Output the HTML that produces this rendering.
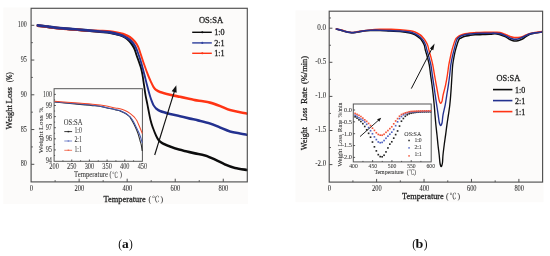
<!DOCTYPE html>
<html><head><meta charset="utf-8"><title>TG and DTG curves</title>
<style>html,body{margin:0;padding:0;background:#fff;width:550px;height:256px;overflow:hidden}svg{display:block}</style>
</head><body>
<svg width="550" height="256" viewBox="0 0 550 256">
<rect x="3.3" y="7.5" width="244.7" height="196.5" fill="#fcfbfa"/>
<rect x="295.5" y="10.4" width="248" height="191.8" fill="#fcfbfa"/>
<g transform="scale(0.68966,1)" fill="none" stroke-linejoin="round" stroke-linecap="round" stroke-width="2.6">
<path d="M54.38 25.60 C56.19 25.73 62.23 26.15 65.25 26.40 C68.27 26.65 70.08 26.87 72.50 27.10 C74.92 27.33 77.33 27.60 79.75 27.80 C82.17 28.00 83.38 28.08 87.00 28.30 C90.62 28.52 96.67 28.83 101.50 29.10 C106.33 29.37 111.17 29.62 116.00 29.90 C120.83 30.18 125.67 30.50 130.50 30.80 C135.33 31.10 140.17 31.40 145.00 31.70 C149.83 32.00 154.67 32.03 159.50 32.60 C164.33 33.17 170.38 34.30 174.00 35.10 C177.62 35.90 179.07 36.45 181.25 37.40 C183.43 38.35 185.36 39.62 187.05 40.80 C188.74 41.98 190.07 43.13 191.40 44.50 C192.73 45.87 193.94 47.25 195.03 49.00 C196.11 50.75 196.84 52.83 197.92 55.00 C199.01 57.17 200.46 59.83 201.55 62.00 C202.64 64.17 203.60 65.83 204.45 68.00 C205.30 70.17 205.90 72.17 206.62 75.00 C207.35 77.83 208.07 81.67 208.80 85.00 C209.52 88.33 210.13 91.67 210.97 95.00 C211.82 98.33 212.67 100.83 213.88 105.00 C215.08 109.17 216.90 116.17 218.22 120.00 C219.55 123.83 220.52 125.42 221.85 128.00 C223.18 130.58 224.87 133.50 226.20 135.50 C227.53 137.50 228.38 138.75 229.82 140.00 C231.27 141.25 232.12 141.92 234.90 143.00 C237.68 144.08 242.39 145.40 246.50 146.50 C250.61 147.60 255.44 148.77 259.55 149.60 C263.66 150.43 267.28 150.87 271.15 151.50 C275.02 152.13 278.40 152.72 282.75 153.40 C287.10 154.08 292.42 154.57 297.25 155.60 C302.08 156.63 306.92 158.13 311.75 159.60 C316.58 161.07 321.42 163.00 326.25 164.40 C331.08 165.80 335.43 167.07 340.75 168.00 C346.07 168.93 355.25 169.67 358.15 170.00" stroke="#0c0c0c"/>
<path d="M54.38 25.60 C56.19 25.75 62.23 26.23 65.25 26.50 C68.27 26.77 70.08 26.97 72.50 27.20 C74.92 27.43 77.33 27.70 79.75 27.90 C82.17 28.10 83.38 28.18 87.00 28.40 C90.62 28.62 96.67 28.95 101.50 29.20 C106.33 29.45 111.17 29.65 116.00 29.90 C120.83 30.15 125.67 30.52 130.50 30.70 C135.33 30.88 140.17 30.87 145.00 31.00 C149.83 31.13 154.67 31.10 159.50 31.50 C164.33 31.90 170.38 32.87 174.00 33.40 C177.62 33.93 178.83 34.07 181.25 34.70 C183.67 35.33 186.08 36.02 188.50 37.20 C190.92 38.38 193.82 40.23 195.75 41.80 C197.68 43.37 198.77 44.65 200.10 46.60 C201.43 48.55 202.28 50.60 203.72 53.50 C205.17 56.40 206.99 60.42 208.80 64.00 C210.61 67.58 212.91 72.00 214.60 75.00 C216.29 78.00 217.62 80.00 218.95 82.00 C220.28 84.00 221.37 85.70 222.57 87.00 C223.78 88.30 224.63 88.98 226.20 89.80 C227.77 90.62 228.62 91.08 232.00 91.90 C235.38 92.72 241.67 93.88 246.50 94.70 C251.33 95.52 256.41 96.13 261.00 96.80 C265.59 97.47 270.43 98.15 274.05 98.70 C277.68 99.25 279.37 99.68 282.75 100.10 C286.13 100.52 290.72 100.78 294.35 101.20 C297.97 101.62 300.39 101.80 304.50 102.60 C308.61 103.40 314.17 104.77 319.00 106.00 C323.83 107.23 328.67 108.97 333.50 110.00 C338.33 111.03 343.89 111.62 348.00 112.20 C352.11 112.78 356.46 113.28 358.15 113.50" stroke="#ff3414"/>
<path d="M54.38 25.40 C56.19 25.53 62.23 25.95 65.25 26.20 C68.27 26.45 70.08 26.67 72.50 26.90 C74.92 27.13 77.33 27.40 79.75 27.60 C82.17 27.80 83.38 27.88 87.00 28.10 C90.62 28.32 96.67 28.63 101.50 28.90 C106.33 29.17 111.17 29.42 116.00 29.70 C120.83 29.98 125.67 30.30 130.50 30.60 C135.33 30.90 140.17 31.20 145.00 31.50 C149.83 31.80 154.67 31.85 159.50 32.40 C164.33 32.95 170.38 34.05 174.00 34.80 C177.62 35.55 178.83 36.03 181.25 36.90 C183.67 37.77 186.57 38.98 188.50 40.00 C190.43 41.02 191.52 41.87 192.85 43.00 C194.18 44.13 195.27 45.13 196.47 46.80 C197.68 48.47 198.77 50.47 200.10 53.00 C201.43 55.53 202.88 58.33 204.45 62.00 C206.02 65.67 208.07 71.17 209.53 75.00 C210.98 78.83 211.89 81.67 213.15 85.00 C214.41 88.33 215.93 92.33 217.06 95.00 C218.20 97.67 219.00 99.25 219.96 101.00 C220.93 102.75 221.78 104.23 222.86 105.50 C223.95 106.77 224.97 107.68 226.49 108.60 C228.01 109.52 228.66 110.10 232.00 111.00 C235.34 111.90 241.67 113.13 246.50 114.00 C251.33 114.87 256.17 115.43 261.00 116.20 C265.83 116.97 271.15 117.90 275.50 118.60 C279.85 119.30 282.27 119.58 287.10 120.40 C291.93 121.22 299.18 122.32 304.50 123.50 C309.82 124.68 314.17 126.18 319.00 127.50 C323.83 128.82 328.67 130.40 333.50 131.40 C338.33 132.40 343.89 132.95 348.00 133.50 C352.11 134.05 356.46 134.50 358.15 134.70" stroke="#23318f"/>
</g>
<rect x="31.10" y="8.30" width="216.20" height="173.60" fill="none" stroke="#505050" stroke-width="1.15"/>
<path d="M31.10 25.30 h3.2 M31.10 60.05 h3.2 M31.10 94.80 h3.2 M31.10 129.55 h3.2 M31.10 164.30 h3.2 M31.10 42.67 h1.7 M31.10 77.42 h1.7 M31.10 112.17 h1.7 M31.10 146.93 h1.7 M79.14 181.90 v-3.2 M127.18 181.90 v-3.2 M175.22 181.90 v-3.2 M223.26 181.90 v-3.2 M55.12 181.90 v-1.7 M103.16 181.90 v-1.7 M151.20 181.90 v-1.7 M199.24 181.90 v-1.7" stroke="#505050" stroke-width="1" fill="none"/>
<g font-family="'Liberation Serif','Noto Serif CJK SC',serif">
<text x="17.80" y="27.40" font-size="7.60" textLength="9.00" lengthAdjust="spacingAndGlyphs" fill="#2a2a2a" stroke="#2a2a2a" style="stroke-width:0.06px">100</text>
<text x="20.70" y="62.15" font-size="7.60" textLength="6.10" lengthAdjust="spacingAndGlyphs" fill="#2a2a2a" stroke="#2a2a2a" style="stroke-width:0.06px">95</text>
<text x="20.70" y="96.90" font-size="7.60" textLength="6.10" lengthAdjust="spacingAndGlyphs" fill="#2a2a2a" stroke="#2a2a2a" style="stroke-width:0.06px">90</text>
<text x="20.70" y="131.65" font-size="7.60" textLength="6.10" lengthAdjust="spacingAndGlyphs" fill="#2a2a2a" stroke="#2a2a2a" style="stroke-width:0.06px">85</text>
<text x="20.70" y="166.40" font-size="7.60" textLength="6.10" lengthAdjust="spacingAndGlyphs" fill="#2a2a2a" stroke="#2a2a2a" style="stroke-width:0.06px">80</text>
<text x="29.65" y="191.10" font-size="7.70" textLength="3.30" lengthAdjust="spacingAndGlyphs" fill="#2a2a2a" stroke="#2a2a2a" style="stroke-width:0.06px">0</text>
<text x="74.44" y="191.10" font-size="7.70" textLength="9.80" lengthAdjust="spacingAndGlyphs" fill="#2a2a2a" stroke="#2a2a2a" style="stroke-width:0.06px">200</text>
<text x="122.48" y="191.10" font-size="7.70" textLength="9.80" lengthAdjust="spacingAndGlyphs" fill="#2a2a2a" stroke="#2a2a2a" style="stroke-width:0.06px">400</text>
<text x="170.52" y="191.10" font-size="7.70" textLength="9.80" lengthAdjust="spacingAndGlyphs" fill="#2a2a2a" stroke="#2a2a2a" style="stroke-width:0.06px">600</text>
<text x="218.56" y="191.10" font-size="7.70" textLength="9.80" lengthAdjust="spacingAndGlyphs" fill="#2a2a2a" stroke="#2a2a2a" style="stroke-width:0.06px">800</text>
<text x="103.60" y="201.60" font-size="9.00" textLength="42.10" lengthAdjust="spacingAndGlyphs" fill="#222" stroke="#222" style="stroke-width:0.26px">Temperature</text>
<text x="148.60" y="201.60" font-size="9.00" textLength="2.60" lengthAdjust="spacingAndGlyphs" fill="#2a2a2a" stroke="#2a2a2a" style="stroke-width:0.06px">(</text>
<text x="151.90" y="201.60" font-size="8.40" textLength="7.30" lengthAdjust="spacingAndGlyphs" fill="#2a2a2a" stroke="#2a2a2a" style="stroke-width:0.06px">℃</text>
<text x="160.40" y="201.60" font-size="9.00" textLength="2.60" lengthAdjust="spacingAndGlyphs" fill="#2a2a2a" stroke="#2a2a2a" style="stroke-width:0.06px">)</text>
<text transform="translate(11.60,129.40) rotate(-90)" font-size="8.80" textLength="24.20" lengthAdjust="spacingAndGlyphs" fill="#222" stroke="#222" style="stroke-width:0.26px">Weight</text>
<text transform="translate(11.60,103.40) rotate(-90)" font-size="8.80" textLength="16.40" lengthAdjust="spacingAndGlyphs" fill="#222" stroke="#222" style="stroke-width:0.26px">Loss</text>
<text transform="translate(11.60,82.20) rotate(-90)" font-size="8.80" textLength="9.80" lengthAdjust="spacingAndGlyphs" fill="#222" stroke="#222" style="stroke-width:0.26px">(%)</text>
<text x="199.00" y="22.70" font-size="7.80" textLength="24.00" lengthAdjust="spacingAndGlyphs" fill="#222" stroke="#222" style="stroke-width:0.26px">OS:SA</text>
<text x="214.20" y="35.30" font-size="7.80" textLength="10.40" lengthAdjust="spacingAndGlyphs" fill="#222" stroke="#222" style="stroke-width:0.26px">1:0</text>
<text x="214.20" y="45.90" font-size="7.80" textLength="10.40" lengthAdjust="spacingAndGlyphs" fill="#222" stroke="#222" style="stroke-width:0.26px">2:1</text>
<text x="214.20" y="56.30" font-size="7.80" textLength="10.40" lengthAdjust="spacingAndGlyphs" fill="#222" stroke="#222" style="stroke-width:0.26px">1:1</text>
</g>
<path d="M192.2 32.30 H211.8" stroke="#0c0c0c" stroke-width="1.45"/>
<circle cx="202.3" cy="32.30" r="1.05" fill="#0c0c0c"/>
<path d="M192.2 42.90 H211.8" stroke="#3444a0" stroke-width="1.45"/>
<circle cx="202.3" cy="42.90" r="1.05" fill="#3444a0"/>
<path d="M192.2 53.30 H211.8" stroke="#ff3414" stroke-width="1.45"/>
<circle cx="202.3" cy="53.30" r="1.05" fill="#ff3414"/>
<path d="M154.70 155.00 L174.47 91.12" stroke="#111" stroke-width="1.15"/><path d="M176.30 85.20 L176.66 92.85 L171.69 91.31 Z" fill="#111"/>
<rect x="54.10" y="88.70" width="88.30" height="72.60" fill="#fefefe" stroke="#555" stroke-width="1"/>
<g fill="none" stroke-width="1.05" stroke-linejoin="round">
<path d="M54.50 102.10 C57.92 102.40 68.25 103.28 75.00 103.90 C81.75 104.52 90.00 105.22 95.00 105.80 C100.00 106.38 101.67 106.75 105.00 107.40 C108.33 108.05 112.50 109.12 115.00 109.70 C117.50 110.28 118.33 110.30 120.00 110.90 C121.67 111.50 123.67 112.55 125.00 113.30 C126.33 114.05 127.17 114.75 128.00 115.40 C128.83 116.05 129.42 116.47 130.00 117.20 C130.58 117.93 130.97 118.87 131.50 119.80 C132.03 120.73 132.68 121.85 133.20 122.80 C133.72 123.75 134.07 124.38 134.60 125.50 C135.13 126.62 135.83 128.13 136.40 129.50 C136.97 130.87 137.40 131.87 138.00 133.70 C138.60 135.53 139.47 138.67 140.00 140.50 C140.53 142.33 140.83 142.95 141.20 144.70 C141.57 146.45 142.03 149.95 142.20 151.00" stroke="#2a2a2a"/>
<path d="M54.50 101.80 C57.92 102.10 68.25 102.98 75.00 103.60 C81.75 104.22 90.00 104.90 95.00 105.50 C100.00 106.10 101.67 106.53 105.00 107.20 C108.33 107.87 112.50 108.93 115.00 109.50 C117.50 110.07 118.33 110.02 120.00 110.60 C121.67 111.18 123.67 112.27 125.00 113.00 C126.33 113.73 127.17 114.38 128.00 115.00 C128.83 115.62 129.33 115.98 130.00 116.70 C130.67 117.42 131.37 118.38 132.00 119.30 C132.63 120.22 133.25 121.20 133.80 122.20 C134.35 123.20 134.77 124.20 135.30 125.30 C135.83 126.40 136.43 127.63 137.00 128.80 C137.57 129.97 138.07 130.80 138.70 132.30 C139.33 133.80 140.22 136.05 140.80 137.80 C141.38 139.55 141.97 141.97 142.20 142.80" stroke="#4357b0"/>
<path d="M54.50 101.20 C57.92 101.47 68.25 102.25 75.00 102.80 C81.75 103.35 90.00 104.00 95.00 104.50 C100.00 105.00 101.67 105.23 105.00 105.80 C108.33 106.37 112.50 107.40 115.00 107.90 C117.50 108.40 118.33 108.35 120.00 108.80 C121.67 109.25 123.33 109.83 125.00 110.60 C126.67 111.37 128.67 112.52 130.00 113.40 C131.33 114.28 132.17 115.13 133.00 115.90 C133.83 116.67 134.37 117.22 135.00 118.00 C135.63 118.78 136.18 119.47 136.80 120.60 C137.42 121.73 138.08 123.40 138.70 124.80 C139.32 126.20 139.90 127.55 140.50 129.00 C141.10 130.45 142.00 132.75 142.30 133.50" stroke="#f24a2c"/>
</g>
<path d="M54.10 94.40 h1.8 M54.10 105.50 h1.8 M54.10 116.60 h1.8 M54.10 127.70 h1.8 M54.10 138.80 h1.8 M54.10 149.90 h1.8 M54.10 99.95 h1 M54.10 111.05 h1 M54.10 122.15 h1 M54.10 133.25 h1 M54.10 144.35 h1 M54.10 155.45 h1 M71.76 161.30 v-1.8 M89.42 161.30 v-1.8 M107.08 161.30 v-1.8 M124.74 161.30 v-1.8 M62.93 161.30 v-1 M80.59 161.30 v-1 M98.25 161.30 v-1 M115.91 161.30 v-1 M133.57 161.30 v-1" stroke="#333" stroke-width="0.8" fill="none"/>
<g font-family="'Liberation Serif','Noto Serif CJK SC',serif">
<text x="43.10" y="96.60" font-size="7.30" textLength="8.90" lengthAdjust="spacingAndGlyphs" fill="#3a3a3a" stroke="#3a3a3a" style="stroke-width:0.08px">100</text>
<text x="45.70" y="107.70" font-size="7.30" textLength="6.30" lengthAdjust="spacingAndGlyphs" fill="#3a3a3a" stroke="#3a3a3a" style="stroke-width:0.08px">99</text>
<text x="45.70" y="118.80" font-size="7.30" textLength="6.30" lengthAdjust="spacingAndGlyphs" fill="#3a3a3a" stroke="#3a3a3a" style="stroke-width:0.08px">98</text>
<text x="45.70" y="129.90" font-size="7.30" textLength="6.30" lengthAdjust="spacingAndGlyphs" fill="#3a3a3a" stroke="#3a3a3a" style="stroke-width:0.08px">97</text>
<text x="45.70" y="141.00" font-size="7.30" textLength="6.30" lengthAdjust="spacingAndGlyphs" fill="#3a3a3a" stroke="#3a3a3a" style="stroke-width:0.08px">96</text>
<text x="45.70" y="152.10" font-size="7.30" textLength="6.30" lengthAdjust="spacingAndGlyphs" fill="#3a3a3a" stroke="#3a3a3a" style="stroke-width:0.08px">95</text>
<text x="45.70" y="162.60" font-size="7.30" textLength="6.30" lengthAdjust="spacingAndGlyphs" fill="#3a3a3a" stroke="#3a3a3a" style="stroke-width:0.08px">94</text>
<text x="49.35" y="169.30" font-size="7.40" textLength="9.50" lengthAdjust="spacingAndGlyphs" fill="#3a3a3a" stroke="#3a3a3a" style="stroke-width:0.08px">200</text>
<text x="67.01" y="169.30" font-size="7.40" textLength="9.50" lengthAdjust="spacingAndGlyphs" fill="#3a3a3a" stroke="#3a3a3a" style="stroke-width:0.08px">250</text>
<text x="84.67" y="169.30" font-size="7.40" textLength="9.50" lengthAdjust="spacingAndGlyphs" fill="#3a3a3a" stroke="#3a3a3a" style="stroke-width:0.08px">300</text>
<text x="102.33" y="169.30" font-size="7.40" textLength="9.50" lengthAdjust="spacingAndGlyphs" fill="#3a3a3a" stroke="#3a3a3a" style="stroke-width:0.08px">350</text>
<text x="119.99" y="169.30" font-size="7.40" textLength="9.50" lengthAdjust="spacingAndGlyphs" fill="#3a3a3a" stroke="#3a3a3a" style="stroke-width:0.08px">400</text>
<text x="137.65" y="169.30" font-size="7.40" textLength="9.50" lengthAdjust="spacingAndGlyphs" fill="#3a3a3a" stroke="#3a3a3a" style="stroke-width:0.08px">450</text>
<text x="74.10" y="176.60" font-size="7.40" textLength="34.00" lengthAdjust="spacingAndGlyphs" fill="#3a3a3a" stroke="#3a3a3a" style="stroke-width:0.08px">Temperature</text>
<text x="109.50" y="176.60" font-size="7.40" textLength="2.10" lengthAdjust="spacingAndGlyphs" fill="#3a3a3a" stroke="#3a3a3a" style="stroke-width:0.08px">(</text>
<text x="112.20" y="176.60" font-size="6.80" textLength="5.60" lengthAdjust="spacingAndGlyphs" fill="#3a3a3a" stroke="#3a3a3a" style="stroke-width:0.08px">℃</text>
<text x="119.80" y="176.60" font-size="7.40" textLength="2.20" lengthAdjust="spacingAndGlyphs" fill="#3a3a3a" stroke="#3a3a3a" style="stroke-width:0.08px">)</text>
<text transform="translate(42.50,153.30) rotate(-90)" font-size="7.00" textLength="22.10" lengthAdjust="spacingAndGlyphs" fill="#3a3a3a" stroke="#3a3a3a" style="stroke-width:0.08px">Weight</text>
<text transform="translate(42.50,129.90) rotate(-90)" font-size="7.00" textLength="14.60" lengthAdjust="spacingAndGlyphs" fill="#3a3a3a" stroke="#3a3a3a" style="stroke-width:0.08px">Loss</text>
<text transform="translate(42.50,112.60) rotate(-90)" font-size="7.00" textLength="6.00" lengthAdjust="spacingAndGlyphs" fill="#3a3a3a" stroke="#3a3a3a" style="stroke-width:0.08px">%,</text>
<text x="63.80" y="125.30" font-size="7.60" textLength="18.70" lengthAdjust="spacingAndGlyphs" fill="#3a3a3a" stroke="#3a3a3a" style="stroke-width:0.08px">OS:SA</text>
<text x="74.40" y="133.10" font-size="7.60" textLength="7.40" lengthAdjust="spacingAndGlyphs" fill="#3a3a3a" stroke="#3a3a3a" style="stroke-width:0.08px">1:0</text>
<text x="74.40" y="142.20" font-size="7.60" textLength="7.40" lengthAdjust="spacingAndGlyphs" fill="#3a3a3a" stroke="#3a3a3a" style="stroke-width:0.08px">2:1</text>
<text x="74.40" y="151.60" font-size="7.60" textLength="7.40" lengthAdjust="spacingAndGlyphs" fill="#3a3a3a" stroke="#3a3a3a" style="stroke-width:0.08px">1:1</text>
</g>
<path d="M64.3 131.60 H72.1" stroke="#222" stroke-width="0.9"/>
<rect x="67.60" y="130.90" width="1.6" height="1.4" fill="#222"/>
<path d="M64.3 141.00 H72.1" stroke="#6f7fc8" stroke-width="0.9"/>
<rect x="67.60" y="140.30" width="1.6" height="1.4" fill="#6f7fc8"/>
<path d="M64.3 150.30 H72.1" stroke="#f26a50" stroke-width="0.9"/>
<rect x="67.60" y="149.60" width="1.6" height="1.4" fill="#f26a50"/>
<g transform="scale(0.83333,1)" fill="none" stroke-linejoin="round" stroke-linecap="round" stroke-width="1.6">
<path d="M403.56 29.10 C404.30 29.25 406.46 29.65 408.00 30.00 C409.54 30.35 411.20 30.82 412.80 31.20 C414.40 31.58 416.10 32.03 417.60 32.30 C419.10 32.57 420.40 32.77 421.80 32.80 C423.20 32.83 424.30 32.70 426.00 32.50 C427.70 32.30 429.00 31.93 432.00 31.60 C435.00 31.27 440.00 30.68 444.00 30.50 C448.00 30.32 452.00 30.42 456.00 30.50 C460.00 30.58 464.00 30.85 468.00 31.00 C472.00 31.15 476.00 31.08 480.00 31.40 C484.00 31.72 489.00 32.33 492.00 32.90 C495.00 33.47 496.00 33.88 498.00 34.80 C500.00 35.72 502.64 37.45 504.00 38.40 C505.36 39.35 505.32 39.40 506.16 40.50 C507.00 41.60 508.34 43.42 509.04 45.00 C509.74 46.58 509.74 48.00 510.36 50.00 C510.98 52.00 511.96 54.50 512.76 57.00 C513.56 59.50 514.50 62.00 515.16 65.00 C515.82 68.00 516.18 71.67 516.72 75.00 C517.26 78.33 517.88 81.67 518.40 85.00 C518.92 88.33 519.40 91.67 519.84 95.00 C520.28 98.33 520.68 101.67 521.04 105.00 C521.40 108.33 521.66 111.67 522.00 115.00 C522.34 118.33 522.68 121.67 523.08 125.00 C523.48 128.33 523.98 131.67 524.40 135.00 C524.82 138.33 525.16 141.67 525.60 145.00 C526.04 148.33 526.66 152.08 527.04 155.00 C527.42 157.92 527.60 160.73 527.88 162.50 C528.16 164.27 528.46 164.95 528.72 165.60 C528.98 166.25 529.20 166.40 529.44 166.40 C529.68 166.40 529.90 166.25 530.16 165.60 C530.42 164.95 530.76 164.27 531.00 162.50 C531.24 160.73 531.26 157.92 531.60 155.00 C531.94 152.08 532.52 148.33 533.04 145.00 C533.56 141.67 534.18 138.33 534.72 135.00 C535.26 131.67 535.72 128.33 536.28 125.00 C536.84 121.67 537.50 118.33 538.08 115.00 C538.66 111.67 539.30 108.33 539.76 105.00 C540.22 101.67 540.52 98.33 540.84 95.00 C541.16 91.67 541.42 88.33 541.68 85.00 C541.94 81.67 542.14 78.33 542.40 75.00 C542.66 71.67 542.84 68.00 543.24 65.00 C543.64 62.00 544.24 59.50 544.80 57.00 C545.36 54.50 545.66 52.83 546.60 50.00 C547.54 47.17 549.34 42.00 550.44 40.00 C551.54 38.00 551.94 38.62 553.20 38.00 C554.46 37.38 556.20 36.75 558.00 36.30 C559.80 35.85 562.00 35.57 564.00 35.30 C566.00 35.03 568.00 34.82 570.00 34.70 C572.00 34.58 573.00 34.67 576.00 34.60 C579.00 34.53 585.00 34.47 588.00 34.30 C591.00 34.13 592.00 33.53 594.00 33.60 C596.00 33.67 598.00 34.22 600.00 34.70 C602.00 35.18 604.00 35.68 606.00 36.50 C608.00 37.32 610.20 38.85 612.00 39.60 C613.80 40.35 615.20 40.82 616.80 41.00 C618.40 41.18 620.00 40.98 621.60 40.70 C623.20 40.42 624.80 40.00 626.40 39.30 C628.00 38.60 629.60 37.35 631.20 36.50 C632.80 35.65 634.20 34.78 636.00 34.20 C637.80 33.62 639.60 33.37 642.00 33.00 C644.40 32.63 649.00 32.17 650.40 32.00" stroke="#0c0c0c"/>
<path d="M403.56 28.80 C404.30 28.95 406.46 29.35 408.00 29.70 C409.54 30.05 411.20 30.52 412.80 30.90 C414.40 31.28 416.10 31.73 417.60 32.00 C419.10 32.27 420.40 32.47 421.80 32.50 C423.20 32.53 424.30 32.40 426.00 32.20 C427.70 32.00 429.00 31.67 432.00 31.30 C435.00 30.93 440.00 30.32 444.00 30.00 C448.00 29.68 452.00 29.50 456.00 29.40 C460.00 29.30 464.00 29.35 468.00 29.40 C472.00 29.45 476.00 29.47 480.00 29.70 C484.00 29.93 489.00 30.40 492.00 30.80 C495.00 31.20 496.00 31.43 498.00 32.10 C500.00 32.77 502.40 33.88 504.00 34.80 C505.60 35.72 506.56 36.65 507.60 37.60 C508.64 38.55 509.32 39.27 510.24 40.50 C511.16 41.73 512.38 43.42 513.12 45.00 C513.86 46.58 514.02 48.00 514.68 50.00 C515.34 52.00 516.30 54.50 517.08 57.00 C517.86 59.50 518.64 62.00 519.36 65.00 C520.08 68.00 520.70 71.67 521.40 75.00 C522.10 78.33 522.84 81.67 523.56 85.00 C524.28 88.33 525.14 92.40 525.72 95.00 C526.30 97.60 526.66 99.33 527.04 100.60 C527.42 101.87 527.70 102.15 528.00 102.60 C528.30 103.05 528.56 103.30 528.84 103.30 C529.12 103.30 529.38 103.05 529.68 102.60 C529.98 102.15 530.30 101.87 530.64 100.60 C530.98 99.33 531.04 97.60 531.72 95.00 C532.40 92.40 533.86 88.33 534.72 85.00 C535.58 81.67 536.24 78.33 536.88 75.00 C537.52 71.67 537.96 68.00 538.56 65.00 C539.16 62.00 539.84 59.50 540.48 57.00 C541.12 54.50 541.44 52.83 542.40 50.00 C543.36 47.17 545.14 42.13 546.24 40.00 C547.34 37.87 548.04 37.93 549.00 37.20 C549.96 36.47 550.50 36.15 552.00 35.60 C553.50 35.05 556.00 34.33 558.00 33.90 C560.00 33.47 562.00 33.20 564.00 33.00 C566.00 32.80 568.00 32.78 570.00 32.70 C572.00 32.62 573.00 32.57 576.00 32.50 C579.00 32.43 585.00 32.32 588.00 32.30 C591.00 32.28 592.00 32.35 594.00 32.40 C596.00 32.45 598.00 32.28 600.00 32.60 C602.00 32.92 604.00 33.65 606.00 34.30 C608.00 34.95 610.20 35.97 612.00 36.50 C613.80 37.03 615.20 37.33 616.80 37.50 C618.40 37.67 620.00 37.62 621.60 37.50 C623.20 37.38 624.80 37.22 626.40 36.80 C628.00 36.38 629.60 35.55 631.20 35.00 C632.80 34.45 634.20 33.90 636.00 33.50 C637.80 33.10 639.60 32.92 642.00 32.60 C644.40 32.28 649.00 31.77 650.40 31.60" stroke="#ff3414"/>
<path d="M403.56 28.95 C404.30 29.10 406.46 29.50 408.00 29.85 C409.54 30.20 411.20 30.67 412.80 31.05 C414.40 31.43 416.10 31.88 417.60 32.15 C419.10 32.42 420.40 32.62 421.80 32.65 C423.20 32.68 424.30 32.55 426.00 32.35 C427.70 32.15 429.00 31.79 432.00 31.45 C435.00 31.11 440.00 30.51 444.00 30.30 C448.00 30.09 452.00 30.15 456.00 30.20 C460.00 30.25 464.00 30.47 468.00 30.60 C472.00 30.73 476.00 30.75 480.00 31.00 C484.00 31.25 489.00 31.65 492.00 32.10 C495.00 32.55 496.00 32.92 498.00 33.70 C500.00 34.48 502.34 35.67 504.00 36.80 C505.66 37.93 506.84 39.13 507.96 40.50 C509.08 41.87 510.00 43.42 510.72 45.00 C511.44 46.58 511.62 48.00 512.28 50.00 C512.94 52.00 513.88 54.50 514.68 57.00 C515.48 59.50 516.40 62.00 517.08 65.00 C517.76 68.00 518.18 71.67 518.76 75.00 C519.34 78.33 519.98 81.67 520.56 85.00 C521.14 88.33 521.66 91.67 522.24 95.00 C522.82 98.33 523.44 101.67 524.04 105.00 C524.64 108.33 525.34 112.17 525.84 115.00 C526.34 117.83 526.68 120.40 527.04 122.00 C527.40 123.60 527.70 124.03 528.00 124.60 C528.30 125.17 528.56 125.40 528.84 125.40 C529.12 125.40 529.38 125.17 529.68 124.60 C529.98 124.03 530.32 123.60 530.64 122.00 C530.96 120.40 531.00 117.83 531.60 115.00 C532.20 112.17 533.48 108.33 534.24 105.00 C535.00 101.67 535.52 98.33 536.16 95.00 C536.80 91.67 537.50 88.33 538.08 85.00 C538.66 81.67 539.16 78.33 539.64 75.00 C540.12 71.67 540.44 68.00 540.96 65.00 C541.48 62.00 542.12 59.50 542.76 57.00 C543.40 54.50 543.92 52.83 544.80 50.00 C545.68 47.17 547.04 42.12 548.04 40.00 C549.04 37.88 549.94 37.97 550.80 37.30 C551.66 36.63 552.00 36.43 553.20 36.00 C554.40 35.57 556.20 35.03 558.00 34.70 C559.80 34.37 562.00 34.20 564.00 34.00 C566.00 33.80 568.00 33.62 570.00 33.50 C572.00 33.38 573.00 33.35 576.00 33.30 C579.00 33.25 585.00 33.22 588.00 33.20 C591.00 33.18 592.00 33.13 594.00 33.20 C596.00 33.27 598.00 33.23 600.00 33.60 C602.00 33.97 604.00 34.67 606.00 35.40 C608.00 36.13 610.20 37.35 612.00 38.00 C613.80 38.65 615.20 39.13 616.80 39.30 C618.40 39.47 620.00 39.30 621.60 39.00 C623.20 38.70 624.80 38.08 626.40 37.50 C628.00 36.92 629.60 36.10 631.20 35.50 C632.80 34.90 634.20 34.33 636.00 33.90 C637.80 33.47 640.00 33.17 642.00 32.90 C644.00 32.63 646.60 32.48 648.00 32.30 C649.40 32.12 650.00 31.88 650.40 31.80" stroke="#23318f"/>
</g>
<rect x="329.20" y="11.20" width="213.40" height="170.90" fill="none" stroke="#505050" stroke-width="1.15"/>
<path d="M329.20 28.20 h3.2 M329.20 62.30 h3.2 M329.20 96.40 h3.2 M329.20 130.50 h3.2 M329.20 164.60 h3.2 M329.20 45.25 h1.7 M329.20 79.35 h1.7 M329.20 113.45 h1.7 M329.20 147.55 h1.7 M329.20 17.97 h1.7 M376.62 182.10 v-3.2 M424.04 182.10 v-3.2 M471.46 182.10 v-3.2 M518.88 182.10 v-3.2 M352.91 182.10 v-1.7 M400.33 182.10 v-1.7 M447.75 182.10 v-1.7 M495.17 182.10 v-1.7" stroke="#505050" stroke-width="1" fill="none"/>
<g font-family="'Liberation Serif','Noto Serif CJK SC',serif">
<text x="317.30" y="30.00" font-size="7.20" textLength="8.80" lengthAdjust="spacingAndGlyphs" fill="#2a2a2a" stroke="#2a2a2a" style="stroke-width:0.06px">0.0</text>
<text x="315.20" y="64.10" font-size="7.20" textLength="10.90" lengthAdjust="spacingAndGlyphs" fill="#2a2a2a" stroke="#2a2a2a" style="stroke-width:0.06px">-0.5</text>
<text x="315.20" y="98.20" font-size="7.20" textLength="10.90" lengthAdjust="spacingAndGlyphs" fill="#2a2a2a" stroke="#2a2a2a" style="stroke-width:0.06px">-1.0</text>
<text x="315.20" y="132.30" font-size="7.20" textLength="10.90" lengthAdjust="spacingAndGlyphs" fill="#2a2a2a" stroke="#2a2a2a" style="stroke-width:0.06px">-1.5</text>
<text x="315.20" y="166.40" font-size="7.20" textLength="10.90" lengthAdjust="spacingAndGlyphs" fill="#2a2a2a" stroke="#2a2a2a" style="stroke-width:0.06px">-2.0</text>
<text x="327.85" y="191.20" font-size="7.50" textLength="3.30" lengthAdjust="spacingAndGlyphs" fill="#2a2a2a" stroke="#2a2a2a" style="stroke-width:0.06px">0</text>
<text x="372.12" y="191.20" font-size="7.50" textLength="9.60" lengthAdjust="spacingAndGlyphs" fill="#2a2a2a" stroke="#2a2a2a" style="stroke-width:0.06px">200</text>
<text x="419.54" y="191.20" font-size="7.50" textLength="9.60" lengthAdjust="spacingAndGlyphs" fill="#2a2a2a" stroke="#2a2a2a" style="stroke-width:0.06px">400</text>
<text x="466.96" y="191.20" font-size="7.50" textLength="9.60" lengthAdjust="spacingAndGlyphs" fill="#2a2a2a" stroke="#2a2a2a" style="stroke-width:0.06px">600</text>
<text x="514.38" y="191.20" font-size="7.50" textLength="9.60" lengthAdjust="spacingAndGlyphs" fill="#2a2a2a" stroke="#2a2a2a" style="stroke-width:0.06px">800</text>
<text x="402.10" y="198.80" font-size="8.70" textLength="41.70" lengthAdjust="spacingAndGlyphs" fill="#222" stroke="#222" style="stroke-width:0.26px">Temperature</text>
<text x="446.00" y="198.80" font-size="8.70" textLength="2.60" lengthAdjust="spacingAndGlyphs" fill="#2a2a2a" stroke="#2a2a2a" style="stroke-width:0.06px">(</text>
<text x="449.60" y="198.80" font-size="8.20" textLength="7.00" lengthAdjust="spacingAndGlyphs" fill="#2a2a2a" stroke="#2a2a2a" style="stroke-width:0.06px">℃</text>
<text x="457.60" y="198.80" font-size="8.70" textLength="2.60" lengthAdjust="spacingAndGlyphs" fill="#2a2a2a" stroke="#2a2a2a" style="stroke-width:0.06px">)</text>
<text transform="translate(306.80,150.20) rotate(-90)" font-size="8.80" textLength="23.20" lengthAdjust="spacingAndGlyphs" fill="#222" stroke="#222" style="stroke-width:0.26px">Weight</text>
<text transform="translate(306.80,120.80) rotate(-90)" font-size="8.80" textLength="12.90" lengthAdjust="spacingAndGlyphs" fill="#222" stroke="#222" style="stroke-width:0.26px">Loss</text>
<text transform="translate(306.80,104.00) rotate(-90)" font-size="8.80" textLength="16.70" lengthAdjust="spacingAndGlyphs" fill="#222" stroke="#222" style="stroke-width:0.26px">Rate</text>
<text transform="translate(306.80,84.00) rotate(-90)" font-size="8.80" textLength="28.00" lengthAdjust="spacingAndGlyphs" fill="#222" stroke="#222" style="stroke-width:0.26px">(%/min)</text>
<text x="496.60" y="80.70" font-size="7.80" textLength="23.60" lengthAdjust="spacingAndGlyphs" fill="#222" stroke="#222" style="stroke-width:0.26px">OS:SA</text>
<text x="515.00" y="92.60" font-size="7.80" textLength="10.20" lengthAdjust="spacingAndGlyphs" fill="#222" stroke="#222" style="stroke-width:0.26px">1:0</text>
<text x="515.00" y="103.60" font-size="7.80" textLength="10.20" lengthAdjust="spacingAndGlyphs" fill="#222" stroke="#222" style="stroke-width:0.26px">2:1</text>
<text x="515.00" y="114.60" font-size="7.80" textLength="10.20" lengthAdjust="spacingAndGlyphs" fill="#222" stroke="#222" style="stroke-width:0.26px">1:1</text>
</g>
<path d="M493 89.60 H512.4" stroke="#0c0c0c" stroke-width="1.6"/>
<path d="M493 100.60 H512.4" stroke="#23318f" stroke-width="1.6"/>
<path d="M493 111.60 H512.4" stroke="#ff3414" stroke-width="1.6"/>
<path d="M411.30 88.60 L432.08 48.39" stroke="#111" stroke-width="1.00"/><path d="M434.60 43.50 L433.30 50.15 L429.93 48.40 Z" fill="#111"/>
<rect x="353.30" y="104.00" width="77.90" height="57.90" fill="#fefefe" stroke="#555" stroke-width="1"/>
<rect x="354.28" y="116.00" width="1.65" height="1.65" fill="#262626"/><rect x="356.21" y="117.29" width="1.65" height="1.65" fill="#262626"/><rect x="358.14" y="119.01" width="1.65" height="1.65" fill="#262626"/><rect x="360.07" y="120.67" width="1.65" height="1.65" fill="#262626"/><rect x="362.00" y="122.85" width="1.65" height="1.65" fill="#262626"/><rect x="363.93" y="125.66" width="1.65" height="1.65" fill="#262626"/><rect x="365.86" y="128.95" width="1.65" height="1.65" fill="#262626"/><rect x="367.79" y="132.51" width="1.65" height="1.65" fill="#262626"/><rect x="369.72" y="136.36" width="1.65" height="1.65" fill="#262626"/><rect x="371.65" y="141.22" width="1.65" height="1.65" fill="#262626"/><rect x="373.59" y="146.00" width="1.65" height="1.65" fill="#262626"/><rect x="375.52" y="150.06" width="1.65" height="1.65" fill="#262626"/><rect x="377.45" y="153.83" width="1.65" height="1.65" fill="#262626"/><rect x="379.38" y="155.78" width="1.65" height="1.65" fill="#262626"/><rect x="381.31" y="155.96" width="1.65" height="1.65" fill="#262626"/><rect x="383.24" y="154.42" width="1.65" height="1.65" fill="#262626"/><rect x="385.17" y="151.08" width="1.65" height="1.65" fill="#262626"/><rect x="387.10" y="147.12" width="1.65" height="1.65" fill="#262626"/><rect x="389.03" y="143.33" width="1.65" height="1.65" fill="#262626"/><rect x="390.96" y="140.94" width="1.65" height="1.65" fill="#262626"/><rect x="392.90" y="137.33" width="1.65" height="1.65" fill="#262626"/><rect x="394.83" y="133.77" width="1.65" height="1.65" fill="#262626"/><rect x="396.76" y="130.15" width="1.65" height="1.65" fill="#262626"/><rect x="398.69" y="125.26" width="1.65" height="1.65" fill="#262626"/><rect x="400.62" y="120.38" width="1.65" height="1.65" fill="#262626"/><rect x="402.55" y="117.66" width="1.65" height="1.65" fill="#262626"/><rect x="404.48" y="115.45" width="1.65" height="1.65" fill="#262626"/><rect x="406.41" y="113.98" width="1.65" height="1.65" fill="#262626"/><rect x="408.34" y="112.95" width="1.65" height="1.65" fill="#262626"/><rect x="410.27" y="112.40" width="1.65" height="1.65" fill="#262626"/><rect x="412.21" y="112.01" width="1.65" height="1.65" fill="#262626"/><rect x="414.14" y="111.68" width="1.65" height="1.65" fill="#262626"/><rect x="416.07" y="111.41" width="1.65" height="1.65" fill="#262626"/><rect x="418.00" y="111.24" width="1.65" height="1.65" fill="#262626"/><rect x="419.93" y="111.15" width="1.65" height="1.65" fill="#262626"/><rect x="421.86" y="111.09" width="1.65" height="1.65" fill="#262626"/><rect x="423.79" y="111.06" width="1.65" height="1.65" fill="#262626"/><rect x="425.72" y="111.03" width="1.65" height="1.65" fill="#262626"/><rect x="427.65" y="111.00" width="1.65" height="1.65" fill="#262626"/><rect x="429.58" y="110.98" width="1.65" height="1.65" fill="#262626"/>
<rect x="354.28" y="114.43" width="1.65" height="1.65" fill="#5063c2"/><rect x="356.21" y="115.44" width="1.65" height="1.65" fill="#5063c2"/><rect x="358.14" y="117.00" width="1.65" height="1.65" fill="#5063c2"/><rect x="360.07" y="118.28" width="1.65" height="1.65" fill="#5063c2"/><rect x="362.00" y="119.50" width="1.65" height="1.65" fill="#5063c2"/><rect x="363.93" y="121.21" width="1.65" height="1.65" fill="#5063c2"/><rect x="365.86" y="123.51" width="1.65" height="1.65" fill="#5063c2"/><rect x="367.79" y="126.74" width="1.65" height="1.65" fill="#5063c2"/><rect x="369.72" y="129.92" width="1.65" height="1.65" fill="#5063c2"/><rect x="371.65" y="132.93" width="1.65" height="1.65" fill="#5063c2"/><rect x="373.59" y="136.04" width="1.65" height="1.65" fill="#5063c2"/><rect x="375.52" y="138.77" width="1.65" height="1.65" fill="#5063c2"/><rect x="377.45" y="141.12" width="1.65" height="1.65" fill="#5063c2"/><rect x="379.38" y="141.90" width="1.65" height="1.65" fill="#5063c2"/><rect x="381.31" y="141.56" width="1.65" height="1.65" fill="#5063c2"/><rect x="383.24" y="139.71" width="1.65" height="1.65" fill="#5063c2"/><rect x="385.17" y="137.48" width="1.65" height="1.65" fill="#5063c2"/><rect x="387.10" y="135.35" width="1.65" height="1.65" fill="#5063c2"/><rect x="389.03" y="133.42" width="1.65" height="1.65" fill="#5063c2"/><rect x="390.96" y="131.34" width="1.65" height="1.65" fill="#5063c2"/><rect x="392.90" y="128.61" width="1.65" height="1.65" fill="#5063c2"/><rect x="394.83" y="124.87" width="1.65" height="1.65" fill="#5063c2"/><rect x="396.76" y="121.01" width="1.65" height="1.65" fill="#5063c2"/><rect x="398.69" y="117.76" width="1.65" height="1.65" fill="#5063c2"/><rect x="400.62" y="115.71" width="1.65" height="1.65" fill="#5063c2"/><rect x="402.55" y="114.00" width="1.65" height="1.65" fill="#5063c2"/><rect x="404.48" y="113.00" width="1.65" height="1.65" fill="#5063c2"/><rect x="406.41" y="112.13" width="1.65" height="1.65" fill="#5063c2"/><rect x="408.34" y="111.53" width="1.65" height="1.65" fill="#5063c2"/><rect x="410.27" y="111.25" width="1.65" height="1.65" fill="#5063c2"/><rect x="412.21" y="111.10" width="1.65" height="1.65" fill="#5063c2"/><rect x="414.14" y="110.98" width="1.65" height="1.65" fill="#5063c2"/><rect x="416.07" y="110.83" width="1.65" height="1.65" fill="#5063c2"/><rect x="418.00" y="110.72" width="1.65" height="1.65" fill="#5063c2"/><rect x="419.93" y="110.65" width="1.65" height="1.65" fill="#5063c2"/><rect x="421.86" y="110.61" width="1.65" height="1.65" fill="#5063c2"/><rect x="423.79" y="110.57" width="1.65" height="1.65" fill="#5063c2"/><rect x="425.72" y="110.54" width="1.65" height="1.65" fill="#5063c2"/><rect x="427.65" y="110.51" width="1.65" height="1.65" fill="#5063c2"/><rect x="429.58" y="110.48" width="1.65" height="1.65" fill="#5063c2"/>
<rect x="354.28" y="112.62" width="1.65" height="1.65" fill="#f4563a"/><rect x="356.21" y="113.54" width="1.65" height="1.65" fill="#f4563a"/><rect x="358.14" y="114.55" width="1.65" height="1.65" fill="#f4563a"/><rect x="360.07" y="115.74" width="1.65" height="1.65" fill="#f4563a"/><rect x="362.00" y="117.30" width="1.65" height="1.65" fill="#f4563a"/><rect x="363.93" y="119.02" width="1.65" height="1.65" fill="#f4563a"/><rect x="365.86" y="120.56" width="1.65" height="1.65" fill="#f4563a"/><rect x="367.79" y="122.59" width="1.65" height="1.65" fill="#f4563a"/><rect x="369.72" y="124.71" width="1.65" height="1.65" fill="#f4563a"/><rect x="371.65" y="127.35" width="1.65" height="1.65" fill="#f4563a"/><rect x="373.59" y="129.57" width="1.65" height="1.65" fill="#f4563a"/><rect x="375.52" y="131.91" width="1.65" height="1.65" fill="#f4563a"/><rect x="377.45" y="133.60" width="1.65" height="1.65" fill="#f4563a"/><rect x="379.38" y="134.34" width="1.65" height="1.65" fill="#f4563a"/><rect x="381.31" y="134.42" width="1.65" height="1.65" fill="#f4563a"/><rect x="383.24" y="133.46" width="1.65" height="1.65" fill="#f4563a"/><rect x="385.17" y="131.49" width="1.65" height="1.65" fill="#f4563a"/><rect x="387.10" y="129.73" width="1.65" height="1.65" fill="#f4563a"/><rect x="389.03" y="127.82" width="1.65" height="1.65" fill="#f4563a"/><rect x="390.96" y="125.93" width="1.65" height="1.65" fill="#f4563a"/><rect x="392.90" y="123.00" width="1.65" height="1.65" fill="#f4563a"/><rect x="394.83" y="120.14" width="1.65" height="1.65" fill="#f4563a"/><rect x="396.76" y="117.80" width="1.65" height="1.65" fill="#f4563a"/><rect x="398.69" y="115.36" width="1.65" height="1.65" fill="#f4563a"/><rect x="400.62" y="113.68" width="1.65" height="1.65" fill="#f4563a"/><rect x="402.55" y="112.80" width="1.65" height="1.65" fill="#f4563a"/><rect x="404.48" y="112.02" width="1.65" height="1.65" fill="#f4563a"/><rect x="406.41" y="111.61" width="1.65" height="1.65" fill="#f4563a"/><rect x="408.34" y="110.95" width="1.65" height="1.65" fill="#f4563a"/><rect x="410.27" y="110.64" width="1.65" height="1.65" fill="#f4563a"/><rect x="412.21" y="110.49" width="1.65" height="1.65" fill="#f4563a"/><rect x="414.14" y="110.38" width="1.65" height="1.65" fill="#f4563a"/><rect x="416.07" y="110.27" width="1.65" height="1.65" fill="#f4563a"/><rect x="418.00" y="110.21" width="1.65" height="1.65" fill="#f4563a"/><rect x="419.93" y="110.16" width="1.65" height="1.65" fill="#f4563a"/><rect x="421.86" y="110.12" width="1.65" height="1.65" fill="#f4563a"/><rect x="423.79" y="110.08" width="1.65" height="1.65" fill="#f4563a"/><rect x="425.72" y="110.04" width="1.65" height="1.65" fill="#f4563a"/><rect x="427.65" y="110.01" width="1.65" height="1.65" fill="#f4563a"/><rect x="429.58" y="109.98" width="1.65" height="1.65" fill="#f4563a"/>
<path d="M353.30 110.00 h1.8 M353.30 121.85 h1.8 M353.30 133.70 h1.8 M353.30 145.55 h1.8 M353.30 157.40 h1.8 M372.61 161.90 v-1.8 M391.92 161.90 v-1.8 M411.23 161.90 v-1.8 M362.95 161.90 v-1 M382.26 161.90 v-1 M401.57 161.90 v-1 M420.88 161.90 v-1" stroke="#333" stroke-width="0.8" fill="none"/>
<g font-family="'Liberation Serif','Noto Serif CJK SC',serif">
<text x="344.10" y="111.80" font-size="6.20" textLength="7.90" lengthAdjust="spacingAndGlyphs" fill="#3a3a3a" stroke="#3a3a3a" style="stroke-width:0.08px">0.0</text>
<text x="342.00" y="123.65" font-size="6.20" textLength="10.00" lengthAdjust="spacingAndGlyphs" fill="#3a3a3a" stroke="#3a3a3a" style="stroke-width:0.08px">-0.5</text>
<text x="342.00" y="135.50" font-size="6.20" textLength="10.00" lengthAdjust="spacingAndGlyphs" fill="#3a3a3a" stroke="#3a3a3a" style="stroke-width:0.08px">-1.0</text>
<text x="342.00" y="147.35" font-size="6.20" textLength="10.00" lengthAdjust="spacingAndGlyphs" fill="#3a3a3a" stroke="#3a3a3a" style="stroke-width:0.08px">-1.5</text>
<text x="342.00" y="159.20" font-size="6.20" textLength="10.00" lengthAdjust="spacingAndGlyphs" fill="#3a3a3a" stroke="#3a3a3a" style="stroke-width:0.08px">-2.0</text>
<text x="349.25" y="168.10" font-size="6.40" textLength="8.50" lengthAdjust="spacingAndGlyphs" fill="#3a3a3a" stroke="#3a3a3a" style="stroke-width:0.08px">400</text>
<text x="368.56" y="168.10" font-size="6.40" textLength="8.50" lengthAdjust="spacingAndGlyphs" fill="#3a3a3a" stroke="#3a3a3a" style="stroke-width:0.08px">450</text>
<text x="387.87" y="168.10" font-size="6.40" textLength="8.50" lengthAdjust="spacingAndGlyphs" fill="#3a3a3a" stroke="#3a3a3a" style="stroke-width:0.08px">500</text>
<text x="407.18" y="168.10" font-size="6.40" textLength="8.50" lengthAdjust="spacingAndGlyphs" fill="#3a3a3a" stroke="#3a3a3a" style="stroke-width:0.08px">550</text>
<text x="426.49" y="168.10" font-size="6.40" textLength="8.50" lengthAdjust="spacingAndGlyphs" fill="#3a3a3a" stroke="#3a3a3a" style="stroke-width:0.08px">600</text>
<text x="374.40" y="173.80" font-size="6.30" textLength="29.30" lengthAdjust="spacingAndGlyphs" fill="#3a3a3a" stroke="#3a3a3a" style="stroke-width:0.08px">Temperature</text>
<text x="406.80" y="173.80" font-size="6.30" textLength="1.80" lengthAdjust="spacingAndGlyphs" fill="#3a3a3a" stroke="#3a3a3a" style="stroke-width:0.08px">(</text>
<text x="408.90" y="173.80" font-size="6.00" textLength="5.00" lengthAdjust="spacingAndGlyphs" fill="#3a3a3a" stroke="#3a3a3a" style="stroke-width:0.08px">℃</text>
<text x="414.30" y="173.80" font-size="6.30" textLength="1.80" lengthAdjust="spacingAndGlyphs" fill="#3a3a3a" stroke="#3a3a3a" style="stroke-width:0.08px">)</text>
<text transform="translate(342.40,166.50) rotate(-90)" font-size="6.90" textLength="17.60" lengthAdjust="spacingAndGlyphs" fill="#3a3a3a" stroke="#3a3a3a" style="stroke-width:0.08px">Weight</text>
<text transform="translate(342.40,146.60) rotate(-90)" font-size="6.90" textLength="12.00" lengthAdjust="spacingAndGlyphs" fill="#3a3a3a" stroke="#3a3a3a" style="stroke-width:0.08px">Loss</text>
<text transform="translate(342.40,132.20) rotate(-90)" font-size="6.90" textLength="12.60" lengthAdjust="spacingAndGlyphs" fill="#3a3a3a" stroke="#3a3a3a" style="stroke-width:0.08px">Rate</text>
<text transform="translate(342.40,117.60) rotate(-90)" font-size="6.90" textLength="14.90" lengthAdjust="spacingAndGlyphs" fill="#3a3a3a" stroke="#3a3a3a" style="stroke-width:0.08px">%/min</text>
<text x="404.30" y="135.80" font-size="6.30" textLength="17.00" lengthAdjust="spacingAndGlyphs" fill="#3a3a3a" stroke="#3a3a3a" style="stroke-width:0.08px">OS:SA</text>
<text x="414.40" y="142.00" font-size="6.40" textLength="7.30" lengthAdjust="spacingAndGlyphs" fill="#3a3a3a" stroke="#3a3a3a" style="stroke-width:0.08px">1:0</text>
<text x="414.40" y="149.30" font-size="6.40" textLength="7.30" lengthAdjust="spacingAndGlyphs" fill="#3a3a3a" stroke="#3a3a3a" style="stroke-width:0.08px">2:1</text>
<text x="414.40" y="156.30" font-size="6.40" textLength="7.30" lengthAdjust="spacingAndGlyphs" fill="#3a3a3a" stroke="#3a3a3a" style="stroke-width:0.08px">1:1</text>
</g>
<rect x="408.30" y="139.75" width="1.5" height="1.5" fill="#222"/>
<rect x="408.30" y="147.15" width="1.5" height="1.5" fill="#5063c2"/>
<rect x="408.30" y="155.15" width="1.5" height="1.5" fill="#f4563a"/>
<path d="M360.00 136.60 L378.96 119.79" stroke="#111" stroke-width="0.90"/><path d="M381.20 117.80 L379.27 121.65 L377.15 119.26 Z" fill="#111"/>
<text font-family="'Liberation Serif','Noto Serif CJK SC',serif" font-size="12.6" fill="#111"><tspan x="118.20" y="247.9" textLength="3.80" lengthAdjust="spacingAndGlyphs">(</tspan><tspan x="122.10" y="247.9" textLength="6.70" lengthAdjust="spacingAndGlyphs" font-weight="bold">a</tspan><tspan x="129.00" y="247.9" textLength="3.80" lengthAdjust="spacingAndGlyphs">)</tspan></text>
<text font-family="'Liberation Serif','Noto Serif CJK SC',serif" font-size="12.6" fill="#111"><tspan x="412.20" y="247.9" textLength="3.80" lengthAdjust="spacingAndGlyphs">(</tspan><tspan x="415.60" y="247.9" textLength="7.80" lengthAdjust="spacingAndGlyphs" font-weight="bold">b</tspan><tspan x="423.80" y="247.9" textLength="3.80" lengthAdjust="spacingAndGlyphs">)</tspan></text>
</svg>
</body></html>
